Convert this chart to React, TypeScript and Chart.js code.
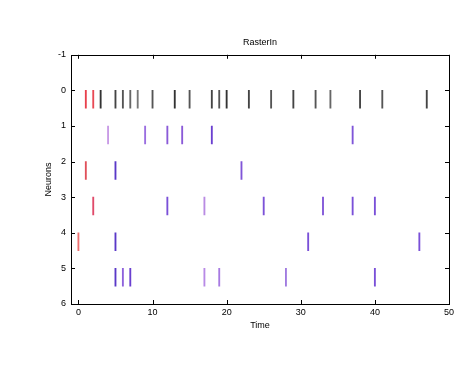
import React, { useEffect, useRef } from "react";
import { Chart, registerables } from "chart.js";

Chart.register(...registerables);

const chartTitle = "RasterIn";
const xTitle = "Time";
const yTitle = "Neurons";
const xTicks = [0, 10, 20, 30, 40, 50];
const yTicks = [-1, 0, 1, 2, 3, 4, 5, 6];

const neuron0Times = [1, 2, 3, 5, 6, 7, 8, 10, 13, 15, 18, 19, 20, 23, 26, 29, 32, 34, 38, 41, 47];
const neuron1Times = [4, 9, 12, 14, 18, 37];
const neuron2Times = [1, 5, 22];
const neuron3Times = [2, 12, 17, 25, 33, 37, 40];
const neuron4Times = [0, 5, 31, 46];
const neuron5Times = [5, 6, 7, 17, 19, 28, 40];

const neuron0Colors = ["#e8404c", "#e84a55", "#333333", "#444444", "#555555", "#666666", "#777777", "#555555", "#333333", "#555555", "#444444", "#555555", "#333333", "#444444", "#555555", "#444444", "#555555", "#666666", "#444444", "#555555", "#444444"];
const neuron1Colors = ["#c99be6", "#9b6ee0", "#8a5ad8", "#8a5ad8", "#6b40d0", "#7f55d8"];
const neuron2Colors = ["#e0505a", "#5a38c8", "#8055d8"];
const neuron3Colors = ["#e04a6a", "#7a50d8", "#b98be3", "#7c52d8", "#8055d8", "#7a50d8", "#7a50d8"];
const neuron4Colors = ["#ee7070", "#5a38c8", "#7a50d8", "#7a50d8"];
const neuron5Colors = ["#5a38c8", "#8e62dc", "#6a40d0", "#b88ae6", "#a77ae2", "#a07ae0", "#7a50d8"];

const spikeTimes = [neuron0Times, neuron1Times, neuron2Times, neuron3Times, neuron4Times, neuron5Times];
const spikeColors = [neuron0Colors, neuron1Colors, neuron2Colors, neuron3Colors, neuron4Colors, neuron5Colors];
const spikeHeight = 0.5;

const FONT = "'Liberation Sans', Arial, Helvetica, sans-serif";

export default function App() {
  const ref = useRef<HTMLCanvasElement | null>(null);

  useEffect(() => {
    if (!ref.current) return;
    const data: any[] = [];
    const colors: string[] = [];
    spikeTimes.forEach((times, n) => {
      times.forEach((t, i) => {
        data.push({ x: t, y: [n, n + spikeHeight] });
        colors.push(spikeColors[n][i]);
      });
    });

    const framePlugin = {
      id: "frameTicks",
      afterDatasetsDraw(chart: any) {
        const { ctx, chartArea } = chart;
        const { left, right, top, bottom } = chartArea;
        const xs = chart.scales.x;
        const ys = chart.scales.y;
        ctx.save();
        ctx.strokeStyle = "#000";
        ctx.lineWidth = 1;
        ctx.beginPath();
        const tl = 4;
        xTicks.forEach((v) => {
          const px = Math.round(xs.getPixelForValue(v)) + 0.5;
          ctx.moveTo(px, bottom);
          ctx.lineTo(px, bottom - tl);
          ctx.moveTo(px, top);
          ctx.lineTo(px, top + tl);
        });
        yTicks.forEach((v) => {
          const py = Math.round(ys.getPixelForValue(v)) + 0.5;
          ctx.moveTo(left, py);
          ctx.lineTo(left + tl, py);
          ctx.moveTo(right, py);
          ctx.lineTo(right - tl, py);
        });
        ctx.stroke();
        ctx.strokeRect(Math.round(left) + 0.5, Math.round(top) + 0.5, Math.round(right - left), Math.round(bottom - top));
        ctx.restore();
      },
    };

    const chart = new Chart(ref.current, {
      type: "bar",
      data: {
        datasets: [
          {
            data,
            backgroundColor: colors,
            borderWidth: 0,
            barThickness: 1.2,
          } as any,
        ],
      },
      options: {
        animation: false,
        responsive: false,
        devicePixelRatio: 1,
        layout: { padding: { left: 43, right: 25, top: 0, bottom: 35 } },
        plugins: {
          legend: { display: false },
          tooltip: { enabled: false },
          title: {
            display: true,
            text: chartTitle,
            fullSize: false,
            color: "#000",
            font: { family: FONT, size: 9, weight: "normal", lineHeight: 1.2 },
            padding: { top: 37, bottom: 7 },
          },
        },
        scales: {
          x: {
            type: "linear",
            offset: false,
            min: -1,
            max: 50,
            grid: { display: false, drawTicks: false, offset: false },
            border: { display: false },
            afterBuildTicks: (s: any) => {
              s.ticks = xTicks.map((v) => ({ value: v }));
            },
            afterFit: (s: any) => {
              s.height = 27;
            },
            ticks: {
              color: "#000",
              padding: 3,
              maxRotation: 0,
              autoSkip: false,
              font: { family: FONT, size: 9 },
            },
            title: {
              display: true,
              text: xTitle,
              color: "#000",
              padding: 0,
              font: { family: FONT, size: 9, lineHeight: 1.2 },
            },
          },
          y: {
            type: "linear",
            reverse: true,
            min: -1,
            max: 6,
            grid: { display: false, drawTicks: false },
            border: { display: false },
            afterBuildTicks: (s: any) => {
              s.ticks = yTicks.map((v) => ({ value: v }));
            },
            afterFit: (s: any) => {
              s.width = 28;
            },
            ticks: {
              color: "#000",
              padding: 5,
              autoSkip: false,
              font: { family: FONT, size: 9 },
            },
            title: {
              display: true,
              text: yTitle,
              color: "#000",
              padding: 0,
              font: { family: FONT, size: 9, lineHeight: 1.2 },
            },
          },
        },
      } as any,
      plugins: [framePlugin],
    });
    return () => chart.destroy();
  }, []);

  return (
    <div style={{ position: "absolute", left: 0, top: 0, width: 474, height: 366, background: "#fff" }}>
      <canvas ref={ref} width={474} height={366} style={{ display: "block", width: 474, height: 366 }} />
    </div>
  );
}
